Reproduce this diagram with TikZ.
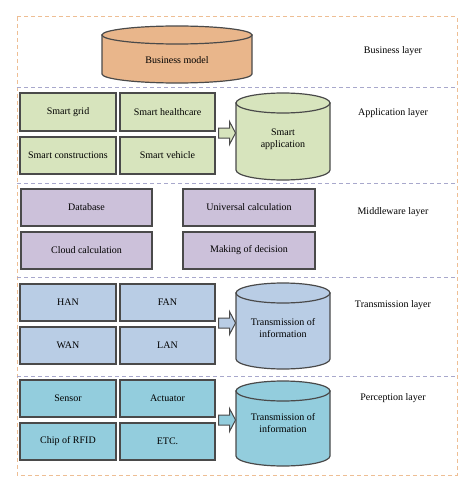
\documentclass[tikz,border=0pt]{standalone}
\usepackage{fontspec}
\setmainfont{Liberation Serif}
\definecolor{cgreen}{HTML}{D7E4BD}
\definecolor{cpurple}{HTML}{CCC1DA}
\definecolor{cblue}{HTML}{B9CDE5}
\definecolor{cteal}{HTML}{93CDDD}
\definecolor{corange}{HTML}{E9B68B}
\definecolor{cline}{HTML}{4A4A4A}
\definecolor{cframe}{HTML}{EEBE94}
\definecolor{csep}{HTML}{A8A8CC}
\tikzset{
  box/.style={draw=cline, line width=1.2pt, minimum width=#1, minimum height=37pt, inner sep=1pt, font=\fontsize{10}{12}\selectfont, align=center},
  cyl/.style={draw=cline, line width=1.2pt},
  ctext/.style={font=\fontsize{10}{12}\selectfont, align=center, inner sep=0pt},
  layerlabel/.style={font=\fontsize{10}{12}\selectfont, inner sep=0pt},
  blockarrow/.style={draw=cline, line width=1pt, line join=miter},
  frame/.style={draw=cframe, line width=1pt, dash pattern=on 4pt off 3pt},
  sep/.style={draw=csep, line width=1pt, dash pattern=on 4pt off 3pt}
}
% cylinder: #1 L, #2 R, #3 top y, #4 bottom y, #5 ry, #6 fill
\newcommand{\mycyl}[6]{%
  \pgfmathsetmacro{\cx}{(#1+#2)/2}%
  \pgfmathsetmacro{\rx}{(#2-#1)/2}%
  \draw[cyl, fill=#6] (#1,-#3-#5) -- (#1,-#4+#5) arc[start angle=180, end angle=360, x radius=\rx, y radius=#5] -- (#2,-#3-#5) -- cycle;
  \draw[cyl, fill=#6] (\cx,-#3-#5) ellipse[x radius=\rx, y radius=#5];
}
% block arrow: tail x at coordinate #1, fill #2
\newcommand{\myarrow}[2]{%
  \draw[blockarrow, fill=#2] (#1) ++(0,5) -- ++(11,0) -- ++(0,6.5) -- ++(6,-11.5) -- ++(-6,-11.5) -- ++(0,6.5) -- ++(-11,0) -- cycle;
}
\begin{document}
\begin{tikzpicture}[x=1pt,y=1pt]
\useasboundingbox (0,0) rectangle (474,-492);
% frame
\draw[frame] (17,-17) rectangle (457,-475);
\draw[sep] (17,-88) -- (457,-88);
\draw[sep] (17,-183) -- (457,-183);
\draw[sep] (17,-277) -- (457,-277);
\draw[sep] (17,-376) -- (457,-376);

% Business layer
\mycyl{102}{252}{26}{83}{9}{corange}
\node[ctext] (bm) at (177,-60) {Business model};
\node[layerlabel] (lbus) at (393,-51) {Business layer};

% Application layer
\node[box=96pt, fill=cgreen, minimum height=38pt] (sg) at (68,-112) {Smart grid};
\node[box=95pt, fill=cgreen, minimum height=38pt] (sh) at (167.5,-112) {Smart healthcare};
\node[box=96pt, fill=cgreen] (sc) at (68,-155.5) {Smart constructions};
\node[box=95pt, fill=cgreen] (sv) at (167.5,-155.5) {Smart vehicle};
\mycyl{236}{330}{93}{180}{10}{cgreen}
\node[ctext] (sa) at (283,-139) {Smart\\application};
\coordinate (a1) at (218.5,-133);
\myarrow{a1}{cgreen}
\node[layerlabel] (lapp) at (393,-113) {Application layer};

% Middleware layer
\node[box=131pt, fill=cpurple] (db) at (86.5,-207.5) {Database};
\node[box=132pt, fill=cpurple] (uc) at (249,-207.5) {Universal calculation};
\node[box=131pt, fill=cpurple] (cc) at (86.5,-250.5) {Cloud calculation};
\node[box=132pt, fill=cpurple] (md) at (249,-250.5) {Making of decision};
\node[layerlabel] (lmid) at (393,-212) {Middleware layer};

% Transmission layer
\node[box=96pt, fill=cblue] (han) at (68,-302.5) {HAN};
\node[box=95pt, fill=cblue] (fan) at (167.5,-302.5) {FAN};
\node[box=96pt, fill=cblue] (wan) at (68,-345.5) {WAN};
\node[box=95pt, fill=cblue] (lan) at (167.5,-345.5) {LAN};
\mycyl{236}{330}{283}{369}{10}{cblue}
\node[ctext] (ti) at (283,-328) {Transmission of\\information};
\coordinate (a2) at (218.5,-323);
\myarrow{a2}{cblue}
\node[layerlabel] (ltr) at (393,-305) {Transmission layer};

% Perception layer
\node[box=96pt, fill=cteal] (sen) at (68,-398.5) {Sensor};
\node[box=95pt, fill=cteal] (act) at (167.5,-398.5) {Actuator};
\node[box=96pt, fill=cteal] (rfid) at (68,-441.5) {Chip of RFID};
\node[box=95pt, fill=cteal] (etc) at (167.5,-441.5) {ETC.};
\mycyl{236}{330}{381}{466}{10}{cteal}
\node[ctext] (pi) at (283,-423) {Transmission of\\information};
\coordinate (a3) at (218.5,-420);
\myarrow{a3}{cteal}
\node[layerlabel] (lper) at (393,-398) {Perception layer};
\end{tikzpicture}
\end{document}
